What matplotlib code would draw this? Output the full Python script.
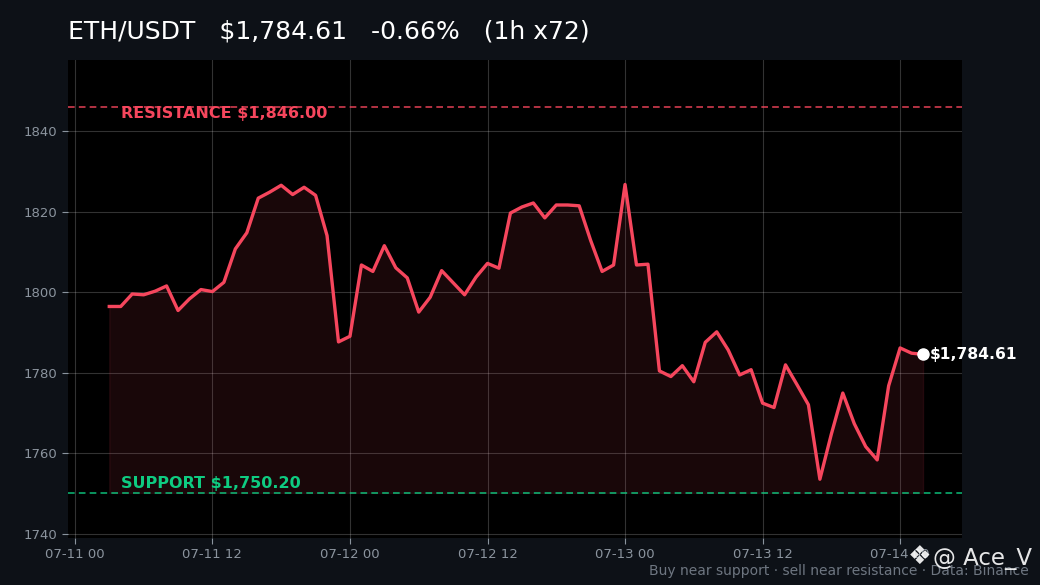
import matplotlib
matplotlib.use("Agg")
import matplotlib.pyplot as plt
import matplotlib.dates as mdates
import pandas as pd
import numpy as np

# ---- data ----
start_time = "2023-07-11 03:00"
prices = [
    1796.5, 1796.5, 1799.6, 1799.4, 1800.3, 1801.6, 1795.5, 1798.4, 1800.7, 1800.2,
    1802.5, 1810.8, 1814.8, 1823.4, 1824.9, 1826.6, 1824.3, 1826.1, 1824.1, 1814.1,
    1787.7, 1789.1, 1806.8, 1805.2, 1811.6, 1806.1, 1803.6, 1795.1, 1798.8, 1805.4,
    1802.4, 1799.4, 1803.8, 1807.2, 1806.0, 1819.7, 1821.2, 1822.2, 1818.5, 1821.7,
    1821.7, 1821.5, 1812.9, 1805.2, 1806.8, 1826.8, 1806.8, 1807.0, 1780.5, 1779.1,
    1781.8, 1777.8, 1787.6, 1790.2, 1785.7, 1779.5, 1780.8, 1772.5, 1771.4, 1782.0,
    1777.1, 1772.1, 1753.6, 1764.8, 1775.0, 1767.4, 1761.7, 1758.4, 1776.8, 1786.2,
    1784.9, 1784.61,
]
resistance = 1846.00
support = 1750.20
last_price = 1784.61
change_pct = -0.66
yticks = [1740, 1760, 1780, 1800, 1820, 1840]
title_text = "ETH/USDT   $1,784.61   -0.66%   (1h x72)"
footer_text = "Buy near support · sell near resistance · Data: Binance"

times = pd.date_range(start_time, periods=len(prices), freq="h")

# ---- style ----
FIG_BG = "#0d1117"
AX_BG = "#000000"
RED = "#f6465d"
GREEN = "#0ecb81"
TICK = "#8b949e"

fig = plt.figure(figsize=(10.4, 5.85), dpi=100, facecolor=FIG_BG)
ax = fig.add_axes([0.0654, 0.0803, 0.8596, 0.8171])
ax.set_facecolor(AX_BG)

ax.fill_between(times, prices, support, color=RED, alpha=0.1)
ax.plot(times, prices, color=RED, lw=2.4, solid_joinstyle="round", zorder=3)

ax.axhline(resistance, color=RED, lw=1.2, alpha=0.85, dashes=(4, 2.5), zorder=2)
ax.axhline(support, color=GREEN, lw=1.2, alpha=0.85, dashes=(4, 2.5), zorder=2)

ax.annotate(f"RESISTANCE ${resistance:,.2f}", xy=(times[1], resistance),
            xytext=(0, 0.5), textcoords="offset points",
            color=RED, fontsize=11.5, fontweight="bold", va="top", ha="left")
ax.annotate(f"SUPPORT ${support:,.2f}", xy=(times[1], support),
            xytext=(0, 1.5), textcoords="offset points",
            color=GREEN, fontsize=11.5, fontweight="bold", va="bottom", ha="left")

ax.plot([times[-1]], [last_price], "o", color="white", ms=8, zorder=5)
ax.annotate(f"${last_price:,.2f}", xy=(times[-1], last_price),
            xytext=(4.5, 0), textcoords="offset points",
            color="white", fontsize=11.2, fontweight="bold", va="center", ha="left")

x0 = pd.Timestamp("2023-07-11 00:00")
ax.set_xlim(x0 - pd.Timedelta(minutes=36), x0 + pd.Timedelta(hours=77.4))
ax.set_ylim(1739.0, 1857.7)
ax.set_yticks(yticks)
ax.xaxis.set_major_locator(mdates.HourLocator(byhour=[0, 12]))
ax.xaxis.set_major_formatter(mdates.DateFormatter("%m-%d %H"))

ax.grid(True, color="white", alpha=0.2, lw=0.8)
ax.set_axisbelow(True)
for s in ax.spines.values():
    s.set_visible(False)
ax.tick_params(colors=TICK, labelsize=9.5, length=4, width=0.8)

fig.text(68 / 1040, 1 - 31 / 585, title_text, color="white", fontsize=18,
         ha="left", va="center")
fig.text(1029 / 1040, 1 - 571 / 585, footer_text, color="#6e7681", fontsize=10,
         ha="right", va="center")
fig.text(1032 / 1040, 1 - 558 / 585, "@ Ace_V", color="white", fontsize=16.5,
         ha="right", va="center", alpha=0.9)
fig.text(920 / 1040, 1 - 557 / 585, "❖", color="white", fontsize=19,
         ha="center", va="center", alpha=0.9)

fig.savefig("out.png", dpi=100, facecolor=FIG_BG)
